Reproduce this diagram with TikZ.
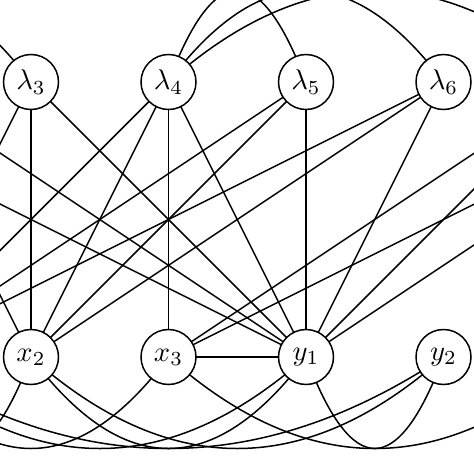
\documentclass[tikz,border=0pt]{standalone}
\usepackage{graphicx}
\usetikzlibrary{calc,backgrounds}
\newcommand\myTopArc[2]{\draw (#1) .. controls ($(#1)!1/3!(#2)+(0,-122)$) and ($(#1)!2/3!(#2)+(0,-122)$) .. (#2);}
\newcommand\myBotArc[2]{\draw (#1) .. controls ($(#1)!1/3!(#2)+(0,122)$) and ($(#1)!2/3!(#2)+(0,122)$) .. (#2);}
\newcommand\myLab[1]{\scalebox{2.85}{$#1$}}
\begin{document}
\begin{tikzpicture}[x=1pt,y=-1pt,line width=1.5pt,
  vnode/.style={circle,draw,fill=white,line width=1.5pt,minimum size=55pt,inner sep=0pt},
  edgestyle/.style={line width=1.5pt,line join=round}]
\useasboundingbox (0,0) rectangle (474,474);
\clip (0,0) rectangle (474,474);
% visible nodes
\node[vnode] (l3) at (31,82) {\myLab{\lambda_3}};
\node[vnode] (l4) at (168.5,82) {\myLab{\lambda_4}};
\node[vnode] (l5) at (306,82) {\myLab{\lambda_5}};
\node[vnode] (l6) at (443.5,82) {\myLab{\lambda_6}};
\node[vnode] (x2) at (31,357) {\myLab{x_2}};
\node[vnode] (x3) at (168.5,357) {\myLab{x_3}};
\node[vnode] (y1) at (306,357) {\myLab{y_1}};
\node[vnode] (y2) at (443.5,357) {\myLab{y_2}};
% ends outside the frame
\coordinate (l1) at (-244,82);
\coordinate (l2) at (-106.5,82);
\coordinate (l7) at (581,82);
\coordinate (l8) at (718.5,82);
\coordinate (x1) at (-106.5,357);
\coordinate (y3) at (581,357);
\begin{scope}[on background layer={edgestyle}]
\clip (0,0) rectangle (474,474);
% top arcs
\myTopArc{l1}{l3.center}
\myTopArc{l4.center}{l5.center}
\myTopArc{l4.center}{l6.center}
\myTopArc{l4.center}{l7}
% bottom arcs
\myBotArc{x1}{x2.center}
\myBotArc{x1}{x3.center}
\myBotArc{x1}{y1.center}
\myBotArc{x1}{y2.center}
\myBotArc{x2.center}{y1.center}
\myBotArc{x2.center}{y2.center}
\myBotArc{y1.center}{y2.center}
\myBotArc{x3.center}{y3}
% straight edges
\draw (l1) -- (y1.center);
\draw (l2) -- (x2.center);
\draw (l2) -- (y1.center);
\draw (l3.center) -- (x1);
\draw (l3.center) -- (x2.center);
\draw (l3.center) -- (y1.center);
\draw (l4.center) -- (x1);
\draw (l4.center) -- (x2.center);
\draw (l4.center) -- (x3.center);
\draw (l4.center) -- (y1.center);
\draw (l5.center) -- (x1);
\draw (l5.center) -- (x2.center);
\draw (l5.center) -- (y1.center);
\draw (l6.center) -- (x1);
\draw (l6.center) -- (x2.center);
\draw (l6.center) -- (y1.center);
\draw (l7) -- (x3.center);
\draw (l7) -- (y1.center);
\draw (l8) -- (x3.center);
\draw (l8) -- (y1.center);
\draw (x3.center) -- (y1.center);
\end{scope}
\end{tikzpicture}
\end{document}
